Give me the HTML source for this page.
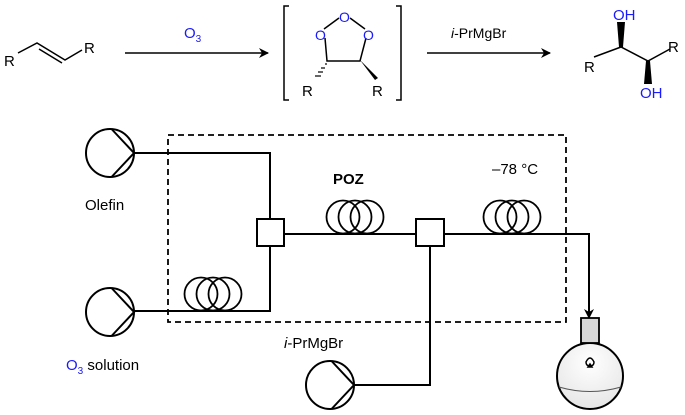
<!DOCTYPE html>
<html><head><style>body{margin:0;background:#fff}svg{display:block}text{font-family:"Liberation Sans",sans-serif}</style></head>
<body>
<svg width="685" height="415" viewBox="0 0 685 415" xmlns="http://www.w3.org/2000/svg">
<defs>
<g id="pump"><circle cx="0" cy="0" r="24" fill="#fff" stroke="#000" stroke-width="2"/><path d="M2,-23.5 L24,0 L2,23.5" fill="none" stroke="#000" stroke-width="2"/></g>
<g id="coil" fill="none" stroke="#000" stroke-width="1.8"><circle cx="-12" cy="0" r="16.5"/><circle cx="0" cy="0" r="16.5"/><circle cx="12" cy="0" r="16.5"/></g>
<marker id="ah" markerWidth="10" markerHeight="10" refX="9" refY="5" orient="auto" markerUnits="userSpaceOnUse"><path d="M0,0 L10,5 L0,10 L3,5 Z" fill="#000"/></marker>
<radialGradient id="sh" cx="0.5" cy="0.3" r="0.7"><stop offset="0" stop-color="#fff"/><stop offset="1" stop-color="#e6e6e6"/></radialGradient>
</defs>
<!-- top scheme -->
<g stroke="#000" stroke-width="1.5" fill="none">
<path d="M18,53 L37,43 L65,60 L82,50"/><path d="M39,49 L62,63"/>
<line x1="125" y1="53" x2="268" y2="53" marker-end="url(#ah)"/>
<line x1="427" y1="53" x2="550" y2="53" marker-end="url(#ah)"/>
<path d="M289,6 L284,6 L284,100 L289,100"/><path d="M396,6 L401,6 L401,100 L396,100"/>
<path d="M325,38 L327,61 L360,61 L366,38"/><path d="M324,29 L339,18"/><path d="M350,18 L365,29"/>
<path d="M594,57 L621,47 L648,61 L670,49"/>
</g>
<polygon points="360,60 362,62 378,78 375,80" fill="#000"/>
<g stroke="#000" stroke-width="1.2"><line x1="325" y1="64" x2="327" y2="64"/><line x1="321" y1="68" x2="325" y2="68"/><line x1="318" y1="72" x2="323" y2="72"/><line x1="315" y1="76" x2="321" y2="76"/></g>
<polygon points="619,47 623,47 625,22 617,22" fill="#000"/>
<polygon points="646,61 650,61 652,84 644,84" fill="#000"/>
<g font-size="15">
<text x="4" y="66">R</text><text x="84" y="53">R</text>
<text x="302" y="96">R</text><text x="372" y="96">R</text>
<text x="584" y="72">R</text><text x="668" y="52">R</text>
<text x="451" y="38" font-size="14"><tspan font-style="italic">i</tspan>-PrMgBr</text>
<g fill="#1a1aff"><text x="184" y="38">O<tspan font-size="10" dy="4">3</tspan></text>
<text x="339" y="22" font-size="14">O</text><text x="315" y="40" font-size="14">O</text><text x="363" y="40" font-size="14">O</text>
<text x="613" y="20">OH</text><text x="640" y="98">OH</text></g>
</g>
<!-- flow -->
<rect x="168" y="135" width="398" height="187" fill="none" stroke="#000" stroke-width="1.8" stroke-dasharray="6,4"/>
<g stroke="#000" stroke-width="2" fill="none">
<path d="M134,153 L270,153 L270,311 L134,311"/>
<path d="M284,234 L589,234 L589,318" marker-end="url(#ah)"/>
<path d="M430,246 L430,385 L354,385"/>
</g>
<use href="#pump" x="110" y="153"/><use href="#pump" x="110" y="312"/><use href="#pump" x="330" y="385"/>
<use href="#coil" x="213" y="294"/><use href="#coil" x="355" y="217"/><use href="#coil" x="512" y="217"/>
<rect x="257" y="219" width="27" height="27" fill="#fff" stroke="#000" stroke-width="2"/>
<rect x="416" y="219" width="28" height="27" fill="#fff" stroke="#000" stroke-width="2"/>
<!-- flask -->
<circle cx="590" cy="376" r="33" fill="url(#sh)" stroke="#000" stroke-width="2"/>
<path d="M559,387 Q590,396 621,387" fill="none" stroke="#555" stroke-width="1"/>
<rect x="581" y="318" width="18" height="25" fill="#d8d8d8" stroke="#000" stroke-width="1.8"/>
<path d="M586,362 Q590,354 594,362 Q594,366 590,366 Q586,366 586,362 Z M588,367 L592,367 L590,364Z" fill="#fff" stroke="#000" stroke-width="1.5"/>
<g font-size="15">
<text x="85" y="210">Olefin</text>
<text x="66" y="370"><tspan fill="#1a1aff">O<tspan font-size="10" dy="4">3</tspan></tspan><tspan dy="-4"> solution</tspan></text>
<text x="284" y="348"><tspan font-style="italic">i</tspan>-PrMgBr</text>
<text x="492" y="174">–78 °C</text>
<text x="333" y="184" font-weight="bold">POZ</text>
</g>
</svg>
</body></html>
